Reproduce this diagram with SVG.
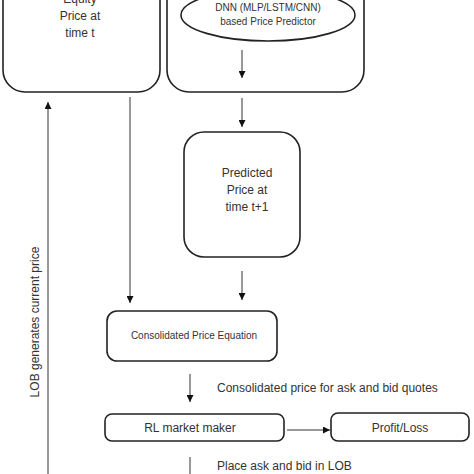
<svg xmlns="http://www.w3.org/2000/svg" width="474" height="474" viewBox="0 0 474 474">
<defs>
<marker id="ah" viewBox="0 0 10 10" refX="10" refY="5" markerWidth="7" markerHeight="7" markerUnits="userSpaceOnUse" orient="auto">
<path d="M0,0 L10,5 L0,10 z" fill="#111"/>
</marker>
<style>
.box{fill:#fff;stroke:#222;stroke-width:1.6}
.ln{fill:none;stroke:#333;stroke-width:1}
text{font-family:"Liberation Sans",Arial,sans-serif;fill:#333}
.t12{font-size:12px}
.t10{font-size:10px}
</style>
</defs>
<rect width="474" height="474" fill="#fff"/>
<g id="equity">
<rect class="box" x="3" y="-40" width="157" height="132" rx="22"/>
<text class="t12" text-anchor="middle" x="80" y="3">Equity</text>
<text class="t12" text-anchor="middle" x="80" y="20">Price at</text>
<text class="t12" text-anchor="middle" x="80" y="37">time t</text>
</g>
<g id="predictor">
<rect class="box" x="167" y="-40" width="197" height="132" rx="22"/>
<ellipse cx="268" cy="15" rx="87" ry="26" fill="#fff" stroke="#222" stroke-width="1.6"/>
<text class="t10" text-anchor="middle" x="268" y="11">DNN (MLP/LSTM/CNN)</text>
<text class="t10" text-anchor="middle" x="268" y="25">based Price Predictor</text>
</g>
<g id="predicted">
<rect class="box" x="184" y="132" width="116" height="125" rx="20"/>
<text class="t12" text-anchor="middle" x="247" y="177">Predicted</text>
<text class="t12" text-anchor="middle" x="247" y="194">Price at</text>
<text class="t12" text-anchor="middle" x="247" y="211">time t+1</text>
</g>
<g id="consolidated">
<rect class="box" x="107" y="311" width="170" height="50" rx="10"/>
<text class="t10" text-anchor="middle" x="194" y="339">Consolidated Price Equation</text>
</g>
<g id="rl">
<rect class="box" x="105" y="414" width="179" height="27" rx="7"/>
<text class="t12" text-anchor="middle" x="190" y="432">RL market maker</text>
</g>
<g id="pl">
<rect class="box" x="331" y="413" width="138" height="28" rx="7"/>
<text class="t12" text-anchor="middle" x="400" y="432">Profit/Loss</text>
</g>
<g id="connectors">
<line class="ln" x1="242" y1="50" x2="242" y2="78" marker-end="url(#ah)"/>
<line class="ln" x1="242" y1="98" x2="242" y2="127" marker-end="url(#ah)"/>
<line class="ln" x1="242" y1="271" x2="242" y2="300" marker-end="url(#ah)"/>
<line class="ln" x1="130" y1="97" x2="130" y2="303" marker-end="url(#ah)"/>
<line class="ln" x1="48" y1="474" x2="48" y2="102" marker-end="url(#ah)"/>
<line class="ln" x1="190" y1="374" x2="190" y2="402" marker-end="url(#ah)"/>
<line class="ln" x1="287" y1="430" x2="330" y2="430" marker-end="url(#ah)"/>
<line class="ln" x1="190" y1="457" x2="190" y2="474"/>
</g>
<g id="labels">
<text class="t12" transform="translate(39,322) rotate(-90)" text-anchor="middle">LOB generates current price</text>
<text class="t12" x="217" y="392">Consolidated price for ask and bid quotes</text>
<text class="t12" x="217" y="470">Place ask and bid in LOB</text>
</g>
</svg>
